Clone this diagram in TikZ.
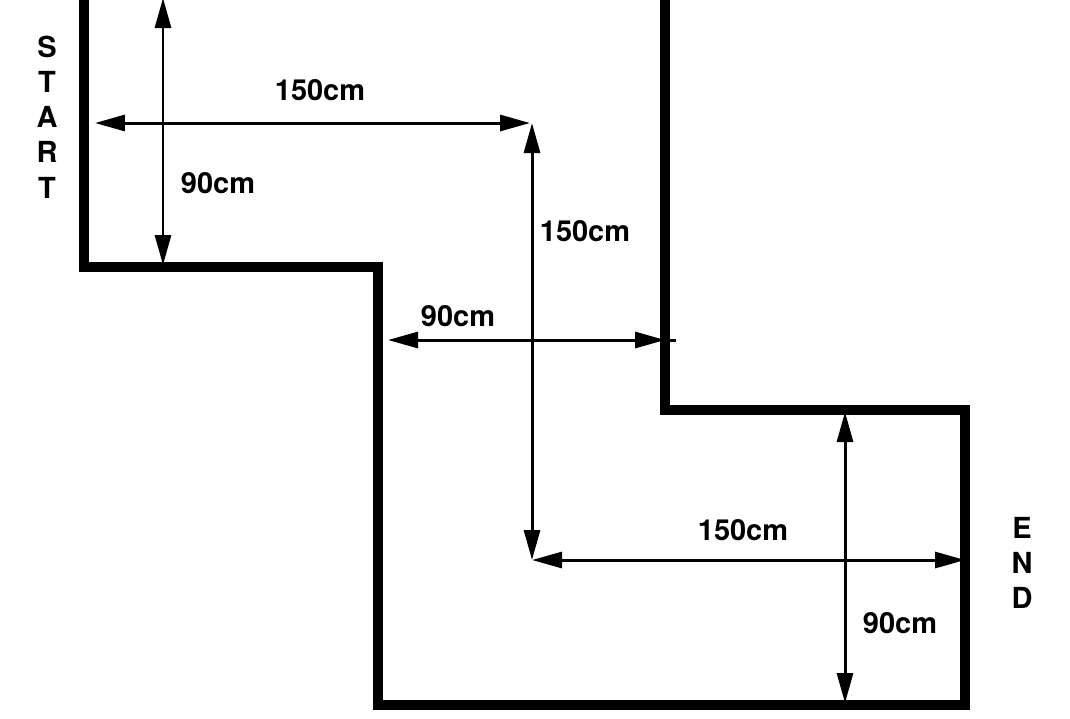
\documentclass[tikz,border=0pt]{standalone}
\usepackage{fontspec}
\setmainfont{TeX Gyre Heros}
\usetikzlibrary{arrows.meta}
\begin{document}
\begin{tikzpicture}[x=0.02cm,y=-0.02cm,
  wall/.style={line width=5.5pt,line join=miter},
  dim/.style={line width=1.7pt,{Triangle[length=0.6cm,width=0.32cm]}-{Triangle[length=0.6cm,width=0.32cm]}},
  lbl/.style={font=\bfseries\fontsize{16.5}{18}\selectfont,inner sep=0pt}]
\useasboundingbox (0,0) rectangle (1070,718);
\draw[wall] (84,-10) -- (84,267) -- (378,267) -- (378,705) -- (965,705) -- (965,410) -- (665,410) -- (665,-10);
\coordinate (a1) at (163,-2); \coordinate (a2) at (163,265);
\coordinate (b1) at (95,123); \coordinate (b2) at (530,123);
\coordinate (c1) at (532,123); \coordinate (c2) at (532,560);
\coordinate (d1) at (388,340); \coordinate (d2) at (665,340); \coordinate (d3) at (676,340);
\coordinate (e1) at (532,560); \coordinate (e2) at (965,560); \coordinate (e3) at (970,560);
\coordinate (f1) at (845,412); \coordinate (f2) at (845,703);
\draw[dim] (a1) -- (a2);
\draw[dim] (b1) -- (b2);
\draw[dim] (c1) -- (c2);
\draw[dim] (d1) -- (d2); \draw[line width=1.7pt] (d2) -- (d3);
\draw[dim] (e1) -- (e2); \draw[line width=1.7pt] (e2) -- (e3);
\draw[dim] (f1) -- (f2);
\node[lbl] (l1) at (320,90) {150cm};
\node[lbl] (l2) at (218,183) {90cm};
\node[lbl] (l3) at (585,231) {150cm};
\node[lbl] (l4) at (458,316) {90cm};
\node[lbl] (l5) at (743,530) {150cm};
\node[lbl] (l6) at (900,623) {90cm};
\node[lbl,align=center] (st) at (47,117) {S\\[2pt]T\\[2pt]A\\[2pt]R\\[2pt]T};
\node[lbl,align=center] (en) at (1022,563) {E\\[2pt]N\\[2pt]D};
\end{tikzpicture}
\end{document}
